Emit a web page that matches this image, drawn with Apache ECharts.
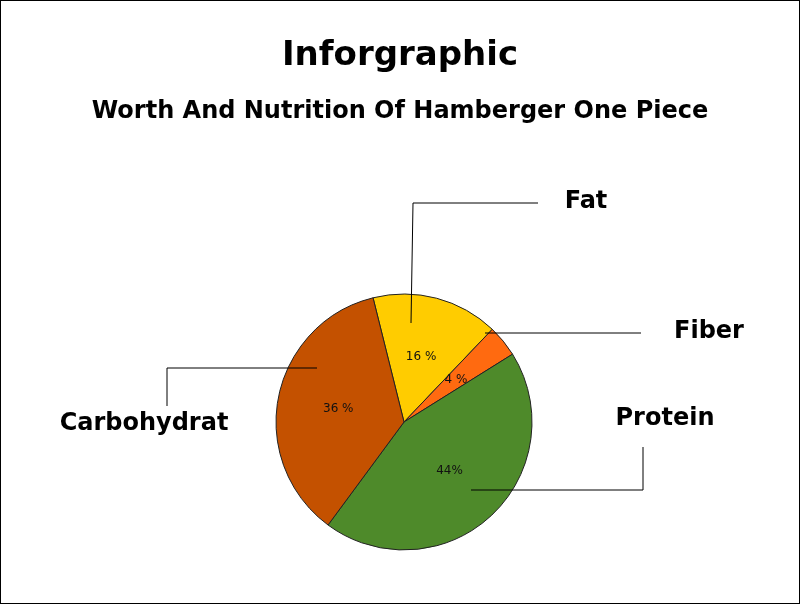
<!DOCTYPE html>
<html><head><meta charset="utf-8">
<script src="https://cdn.jsdelivr.net/npm/echarts@6/dist/echarts.min.js"></script>
<style>html,body{margin:0;padding:0;background:#fff}#c{width:798px;height:602px;border:1px solid #000}</style>
</head><body><div id="c"></div>
<script>
const categories = ['Fat', 'Fiber', 'Protein', 'Carbohydrat'];
const values = [16, 4, 44, 36];
const innerLabels = ['16 %', '4 %', '44%', '36 %'];
const colors = ['#FFCC00', '#FF6A10', '#4E8A2A', '#C45100'];

const outerPos = [
  {x: 585, y: 201, pts: [[410, 322], [412, 202], [537, 202]]},
  {x: 708, y: 331, pts: [[484, 332], [640, 332]]},
  {x: 664, y: 418, pts: [[470, 489], [642, 489], [642, 446]]},
  {x: 143, y: 423, pts: [[316, 367], [166, 367], [166, 405]]}
];

const chart = echarts.init(document.getElementById('c'));
const font = 'DejaVu Sans';
chart.setOption({
  animation: false,
  title: [
    {text: 'Inforgraphic', left: 'center', top: 33, textStyle: {fontFamily: font, fontSize: 34, fontWeight: 'bold', color: '#000'}},
    {text: 'Worth And Nutrition Of Hamberger One Piece', left: 'center', top: 94, textStyle: {fontFamily: font, fontSize: 24, fontWeight: 'bold', color: '#000'}}
  ],
  series: [
    {
      type: 'pie', center: [403, 421], radius: 128, startAngle: 104, clockwise: true, z: 1,
      data: categories.map((n, i) => ({name: n, value: values[i], itemStyle: {color: colors[i]}})),
      itemStyle: {borderColor: '#222', borderWidth: 1},
      label: {position: 'inside', fontFamily: font, fontSize: 12, color: '#111',
        formatter: p => innerLabels[p.dataIndex]},
      labelLine: {show: false}
    },
    {
      type: 'pie', center: [403, 421], radius: 128, startAngle: 104, clockwise: true, z: 2, silent: true,
      data: categories.map((n, i) => ({name: n, value: values[i]})),
      itemStyle: {color: 'rgba(0,0,0,0)', borderWidth: 0},
      label: {show: true, fontFamily: font, fontSize: 24, fontWeight: 'bold', color: '#000', formatter: '{b}'},
      labelLine: {show: true, lineStyle: {color: '#000', width: 1}},
      labelLayout: p => {
        const o = outerPos[p.dataIndex];
        return {x: o.x, y: o.y, align: 'center', verticalAlign: 'middle', labelLinePoints: o.pts};
      }
    }
  ]
});
</script></body></html>
